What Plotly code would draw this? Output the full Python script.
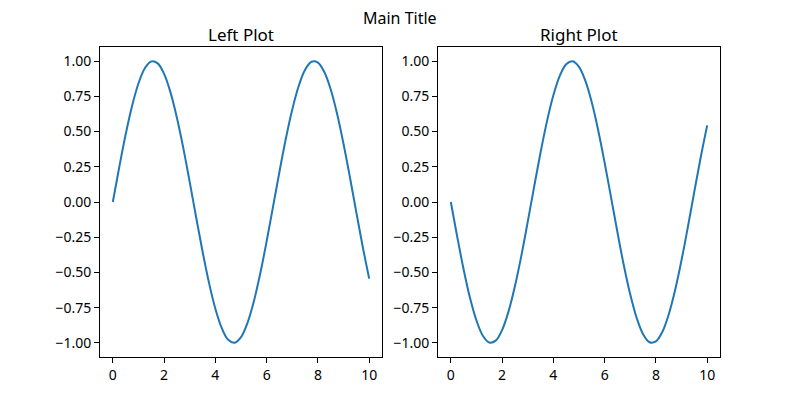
import plotly.graph_objects as go
from plotly.subplots import make_subplots

# values
x_vals = [0, 0.25, 0.5, 0.75, 1.0, 1.25, 1.5, 1.75, 2.0, 2.25, 2.5, 2.75, 3.0,
          3.25, 3.5, 3.75, 4.0, 4.25, 4.5, 4.75, 5.0, 5.25, 5.5, 5.75, 6.0,
          6.25, 6.5, 6.75, 7.0, 7.25, 7.5, 7.75, 8.0, 8.25, 8.5, 8.75, 9.0,
          9.25, 9.5, 9.75, 10.0]
left_y = [0.000, 0.247, 0.479, 0.682, 0.841, 0.949, 0.997, 0.984, 0.909, 0.778,
          0.598, 0.382, 0.141, -0.108, -0.351, -0.572, -0.757, -0.895, -0.978,
          -0.999, -0.959, -0.859, -0.706, -0.508, -0.279, -0.033, 0.215, 0.451,
          0.657, 0.823, 0.938, 0.995, 0.989, 0.922, 0.798, 0.625, 0.412, 0.174,
          -0.075, -0.319, -0.544]
right_y = [0.000, -0.247, -0.479, -0.682, -0.841, -0.949, -0.997, -0.984, -0.909,
           -0.778, -0.598, -0.382, -0.141, 0.108, 0.351, 0.572, 0.757, 0.895,
           0.978, 0.999, 0.959, 0.859, 0.706, 0.508, 0.279, 0.033, -0.215,
           -0.451, -0.657, -0.823, -0.938, -0.995, -0.989, -0.922, -0.798,
           -0.625, -0.412, -0.174, 0.075, 0.319, 0.544]

x_ticks = [0, 2, 4, 6, 8, 10]
y_ticks = [1.00, 0.75, 0.50, 0.25, 0.00, -0.25, -0.50, -0.75, -1.00]

main_title = "Main Title"
titles = ["Left Plot", "Right Plot"]

FONT = "Noto Sans, Open Sans, DejaVu Sans, sans-serif"
BLUE = "#1f77b4"

fig = make_subplots(rows=1, cols=2, horizontal_spacing=0.0903)

for i, y in enumerate([left_y, right_y], start=1):
    fig.add_trace(
        go.Scatter(x=x_vals, y=y, mode="lines", line=dict(color=BLUE, width=2, shape="spline"),
                   showlegend=False, hoverinfo="skip"),
        row=1, col=i
    )

axis_style = dict(
    showline=True, linecolor="black", linewidth=1, mirror=True,
    ticks="outside", ticklen=5, tickwidth=1, tickcolor="black",
    showgrid=False, zeroline=False,
    tickfont=dict(family=FONT, size=14, color="black"),
)
fig.update_xaxes(range=[-0.5, 10.5], tickvals=x_ticks, **axis_style)
fig.update_yaxes(range=[-1.1, 1.1], tickvals=y_ticks, tickformat=".2f", **axis_style)

# page body adds an 8px offset, margins compensate for it
fig.update_layout(
    width=800, height=400,
    margin=dict(l=92, r=88, t=39, b=51),
    plot_bgcolor="white", paper_bgcolor="white",
    font=dict(family=FONT, color="black"),
    annotations=[
        dict(text=main_title, x=0.4839, y=1.0, xref="paper", yref="paper",
             yshift=29, showarrow=False, xanchor="center", yanchor="middle",
             font=dict(family=FONT, size=16, color="black")),
        dict(text=titles[0], x=0.2274, y=1.0, xref="paper", yref="paper",
             yshift=13, showarrow=False, xanchor="center", yanchor="middle",
             font=dict(family=FONT, size=17, color="black")),
        dict(text=titles[1], x=0.7726, y=1.0, xref="paper", yref="paper",
             yshift=13, showarrow=False, xanchor="center", yanchor="middle",
             font=dict(family=FONT, size=17, color="black")),
    ],
)

fig.write_html("out.html")
